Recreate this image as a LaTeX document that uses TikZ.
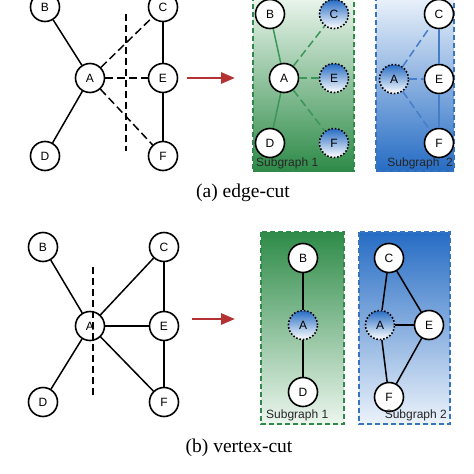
\documentclass[tikz,border=0pt]{standalone}
\usepackage{fontspec}
\setmainfont{Liberation Serif}
\setsansfont{Liberation Sans}
\usetikzlibrary{arrows.meta}
\definecolor{gdark}{RGB}{46,139,72}
\definecolor{glight}{RGB}{236,246,238}
\definecolor{bdark}{RGB}{38,108,196}
\definecolor{blight}{RGB}{236,243,251}
\definecolor{gedge}{RGB}{60,150,88}
\definecolor{bedge}{RGB}{70,125,200}
\definecolor{gborder}{RGB}{50,135,75}
\definecolor{bborder}{RGB}{55,115,190}
\definecolor{arrowred}{RGB}{180,50,50}
\begin{document}
\begin{tikzpicture}[x=1pt,y=-1pt,
  vtx/.style={circle,draw=black,line width=1.6pt,fill=white,minimum size=29pt,inner sep=0pt,font=\sffamily\fontsize{12}{12}\selectfont},
  ghost/.style={vtx,dash pattern=on 1.6pt off 1.8pt,top color=bdark,bottom color=white},
  edge/.style={line width=1.5pt},
  cut/.style={line width=1.5pt,dash pattern=on 8pt off 4pt},
  vcut/.style={line width=1.5pt,dash pattern=on 7pt off 4pt},
  gbox/.style={draw=gborder,line width=1.4pt,dash pattern=on 5pt off 3pt},
  bbox/.style={draw=bborder,line width=1.4pt,dash pattern=on 5pt off 3pt},
  sublabel/.style={font=\sffamily\fontsize{12}{12}\selectfont,text=black!85,inner sep=0pt},
  bigarrow/.style={line width=2.8pt,arrowred,-{Triangle[length=14pt,width=11pt]}},
  caption/.style={font=\fontsize{19.5}{20}\selectfont,inner sep=0pt}]
\clip (0,0) rectangle (474,474);
\fill[white] (0,0) rectangle (474,474);

% ---------------- (a) edge-cut: original graph
\node[vtx] (aB) at (45,7) {B};
\node[vtx] (aC) at (163,7) {C};
\node[vtx] (aA) at (90,78) {A};
\node[vtx] (aE) at (163,78) {E};
\node[vtx] (aD) at (45,156) {D};
\node[vtx] (aF) at (163,156) {F};
\draw[edge] (aA) -- (aB);
\draw[edge] (aA) -- (aD);
\draw[edge] (aC) -- (aE);
\draw[edge] (aE) -- (aF);
\draw[cut] (aA) -- (aC);
\draw[cut] (aA) -- (aE);
\draw[cut] (aA) -- (aF);
\coordinate (acut1) at (126,14);
\coordinate (acut2) at (126,151);
\draw[vcut] (acut1) -- (acut2);
\coordinate (aarr1) at (187,78);
\coordinate (aarr2) at (235,78);
\draw[bigarrow] (aarr1) -- (aarr2);

% subgraph boxes (a)
\shade[top color=glight,bottom color=gdark] (253,-4) rectangle (354,171);
\draw[gbox] (253,-4) rectangle (354,171);
\shade[top color=blight,bottom color=bdark] (376,-4) rectangle (454,171);
\draw[bbox] (376,-4) rectangle (454,171);

% subgraph 1 (a)
\node[vtx] (s1B) at (270,14) {B};
\node[vtx] (s1A) at (284,78) {A};
\node[vtx] (s1D) at (270,143) {D};
\node[ghost] (s1C) at (334,14) {C};
\node[ghost] (s1E) at (334,78) {E};
\node[ghost] (s1F) at (334,143) {F};
\draw[edge,gedge] (s1A) -- (s1B);
\draw[edge,gedge] (s1A) -- (s1D);
\draw[cut,gedge] (s1A) -- (s1C);
\draw[cut,gedge] (s1A) -- (s1E);
\draw[cut,gedge] (s1A) -- (s1F);
\node[sublabel,anchor=west] (s1lab) at (256,163) {Subgraph 1};

% subgraph 2 (a)
\node[ghost] (s2A) at (394,79) {A};
\node[vtx] (s2C) at (439,14) {C};
\node[vtx] (s2E) at (439,79) {E};
\node[vtx] (s2F) at (439,143) {F};
\draw[edge,bedge] (s2C) -- (s2E);
\draw[edge,bedge] (s2E) -- (s2F);
\draw[cut,bedge] (s2A) -- (s2C);
\draw[cut,bedge] (s2A) -- (s2E);
\draw[cut,bedge] (s2A) -- (s2F);
\node[sublabel,anchor=east] (s2lab) at (453,163) {Subgraph\ \ 2};

\node[caption] (capa) at (243,193) {(a) edge-cut};

% ---------------- (b) vertex-cut: original graph
\node[vtx] (bB) at (43,247) {B};
\node[vtx] (bC) at (164,247) {C};
\node[vtx] (bA) at (90,326) {A};
\node[vtx] (bE) at (164,326) {E};
\node[vtx] (bD) at (43,402) {D};
\node[vtx] (bF) at (164,402) {F};
\draw[edge] (bA) -- (bB);
\draw[edge] (bA) -- (bC);
\draw[edge] (bA) -- (bE);
\draw[edge] (bA) -- (bF);
\draw[edge] (bA) -- (bD);
\draw[edge] (bC) -- (bE);
\draw[edge] (bE) -- (bF);
\coordinate (bcut1) at (93,267);
\coordinate (bcut2) at (93,396);
\draw[vcut] (bcut1) -- (bcut2);
\coordinate (barr1) at (192,319);
\coordinate (barr2) at (235,319);
\draw[bigarrow] (barr1) -- (barr2);

% subgraph boxes (b)
\shade[top color=gdark,bottom color=glight] (261,232) rectangle (344,424);
\draw[gbox] (261,232) rectangle (344,424);
\shade[top color=bdark,bottom color=blight] (359,232) rectangle (450,424);
\draw[bbox] (359,232) rectangle (450,424);

% subgraph 1 (b)
\node[vtx] (t1B) at (303,258) {B};
\node[ghost] (t1A) at (303,325) {A};
\node[vtx] (t1D) at (303,392) {D};
\draw[edge] (t1B) -- (t1A);
\draw[edge] (t1A) -- (t1D);
\node[sublabel,anchor=west] (t1lab) at (266,415) {Subgraph 1};

% subgraph 2 (b)
\node[vtx] (t2C) at (389,258) {C};
\node[ghost] (t2A) at (380,325) {A};
\node[vtx] (t2E) at (429,325) {E};
\node[vtx] (t2F) at (389,397) {F};
\draw[edge] (t2C) -- (t2A);
\draw[edge] (t2C) -- (t2E);
\draw[edge] (t2A) -- (t2E);
\draw[edge] (t2A) -- (t2F);
\draw[edge] (t2E) -- (t2F);
\node[sublabel,anchor=east] (t2lab) at (447,415) {Subgraph 2};

\node[caption] (capb) at (239,448) {(b)\ vertex-cut};
\end{tikzpicture}
\end{document}
